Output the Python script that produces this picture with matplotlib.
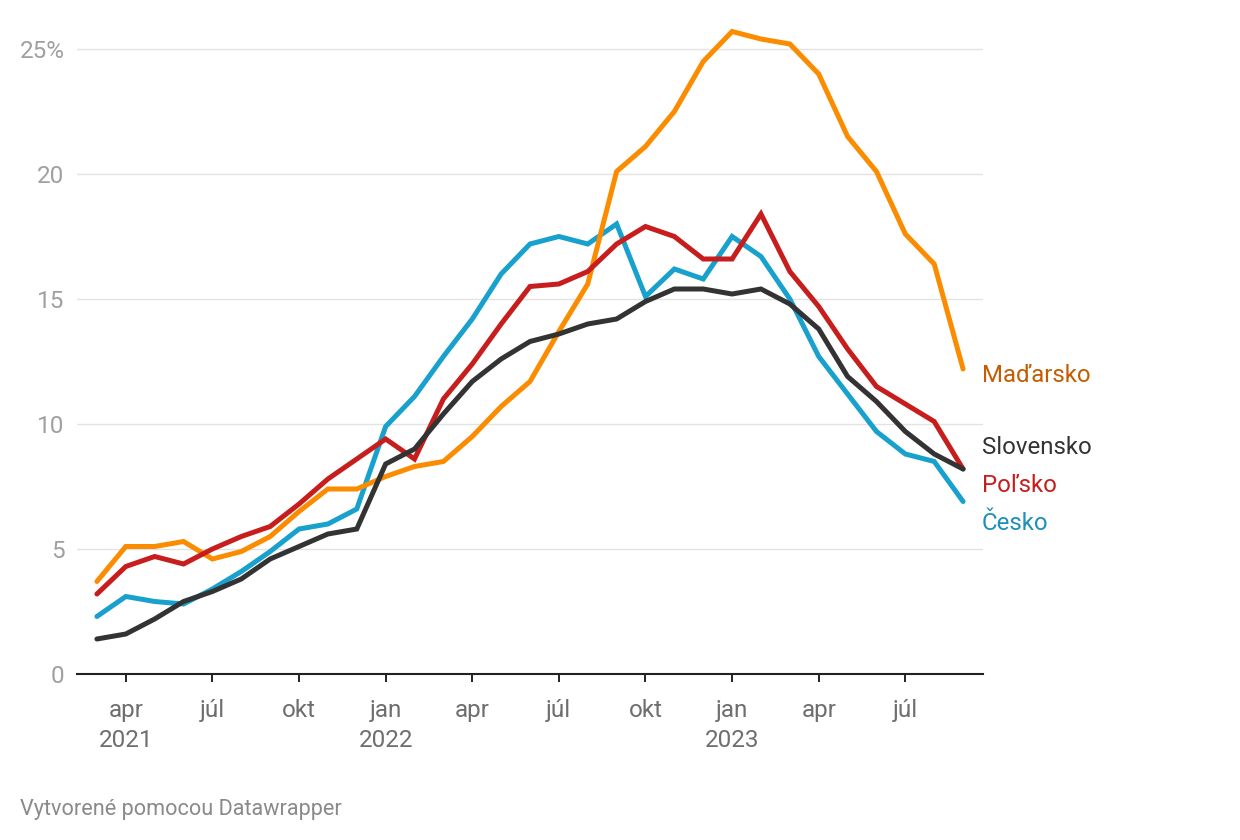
import matplotlib.pyplot as plt
import numpy as np

# monthly inflation, Mar 2021 .. Sep 2023
months = ['2021-03', '2021-04', '2021-05', '2021-06', '2021-07', '2021-08', '2021-09',
          '2021-10', '2021-11', '2021-12', '2022-01', '2022-02', '2022-03', '2022-04',
          '2022-05', '2022-06', '2022-07', '2022-08', '2022-09', '2022-10', '2022-11',
          '2022-12', '2023-01', '2023-02', '2023-03', '2023-04', '2023-05', '2023-06',
          '2023-07', '2023-08', '2023-09']

madarsko = [3.7, 5.1, 5.1, 5.3, 4.6, 4.9, 5.5, 6.5, 7.4, 7.4, 7.9, 8.3, 8.5, 9.5, 10.7, 11.7,
            13.7, 15.6, 20.1, 21.1, 22.5, 24.5, 25.7, 25.4, 25.2, 24.0, 21.5, 20.1, 17.6, 16.4, 12.2]
polsko = [3.2, 4.3, 4.7, 4.4, 5.0, 5.5, 5.9, 6.8, 7.8, 8.6, 9.4, 8.6, 11.0, 12.4, 14.0, 15.5,
          15.6, 16.1, 17.2, 17.9, 17.5, 16.6, 16.6, 18.4, 16.1, 14.7, 13.0, 11.5, 10.8, 10.1, 8.2]
cesko = [2.3, 3.1, 2.9, 2.8, 3.4, 4.1, 4.9, 5.8, 6.0, 6.6, 9.9, 11.1, 12.7, 14.2, 16.0, 17.2,
         17.5, 17.2, 18.0, 15.1, 16.2, 15.8, 17.5, 16.7, 15.0, 12.7, 11.2, 9.7, 8.8, 8.5, 6.9]
slovensko = [1.4, 1.6, 2.2, 2.9, 3.3, 3.8, 4.6, 5.1, 5.6, 5.8, 8.4, 9.0, 10.4, 11.7, 12.6, 13.3,
             13.6, 14.0, 14.2, 14.9, 15.4, 15.4, 15.2, 15.4, 14.8, 13.8, 11.9, 10.9, 9.7, 8.8, 8.2]

tick_months = ['2021-04', '2021-07', '2021-10', '2022-01', '2022-04', '2022-07',
               '2022-10', '2023-01', '2023-04', '2023-07']
tick_labels = ['apr\n2021', 'júl', 'okt', 'jan\n2022', 'apr', 'júl',
               'okt', 'jan\n2023', 'apr', 'júl']
y_ticks = [0, 5, 10, 15, 20, 25]
y_labels = ['0', '5', '10', '15', '20', '25%']

plt.rcParams['font.family'] = ['Roboto', 'DejaVu Sans']

fig = plt.figure(figsize=(12.4, 8.4), dpi=100)
ax = fig.add_axes([77 / 1240, 166 / 840, 906 / 1240, 650 / 840])

x = np.arange(len(months))

# (name, values, line colour, label colour, label offset in points)
series = [
    ('Česko', cesko, '#18a1cd', '#1d8fba', -15.5),
    ('Maďarsko', madarsko, '#fb8c00', '#c45c00', -4.5),
    ('Poľsko', polsko, '#c71e1d', '#c71e1d', -12),
    ('Slovensko', slovensko, '#333333', '#333333', 15.5),
]
for name, vals, col, lcol, dy in series:
    ax.plot(x, vals, color=col, linewidth=3.6, solid_capstyle='round',
            solid_joinstyle='miter', zorder=3)
    ax.annotate(name, xy=(x[-1], vals[-1]), xytext=(13.5, dy), textcoords='offset points',
                color=lcol, fontsize=17.3, va='center', ha='left', annotation_clip=False)

ax.set_xlim(-0.69, 30.69)
ax.set_ylim(0, 26)

ax.set_yticks(y_ticks)
ax.set_yticklabels(y_labels)
ax.tick_params(axis='y', length=0, pad=9, labelsize=17.5, labelcolor='#a0a0a0')
ax.grid(axis='y', color='#e3e3e3', linewidth=1.0, zorder=0)
ax.set_axisbelow(True)

ax.set_xticks([months.index(m) for m in tick_months])
ax.set_xticklabels(tick_labels, linespacing=1.4)
ax.tick_params(axis='x', length=6, width=1.4, color='#222222', pad=12,
               labelsize=17.5, labelcolor='#6e6e6e')

for side in ['top', 'right', 'left']:
    ax.spines[side].set_visible(False)
ax.spines['bottom'].set_color('#222222')
ax.spines['bottom'].set_linewidth(1.5)
ax.spines['bottom'].set_zorder(4)

fig.text(20 / 1240, 1 - 809 / 840, 'Vytvorené pomocou Datawrapper', fontsize=15.6,
         color='#8a8a8a', va='center', ha='left')

fig.savefig('out.png', dpi=100)
